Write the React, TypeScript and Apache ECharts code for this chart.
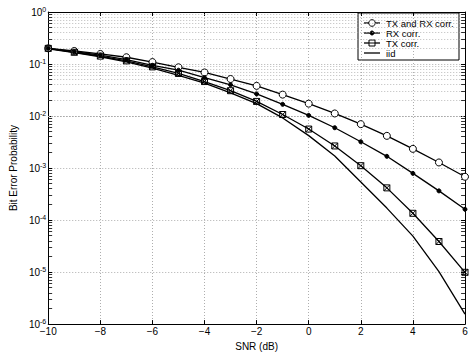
import React, { useEffect, useRef } from "react";
import * as echarts from "echarts";

const snr = [-10, -9, -8, -7, -6, -5, -4, -3, -2, -1, 0, 1, 2, 3, 4, 5, 6];
const txRxCorr = [0.2, 0.178, 0.156, 0.135, 0.109, 0.0865, 0.0688, 0.0515, 0.038, 0.0258, 0.0173, 0.0112, 0.00698, 0.00416, 0.00234, 0.00128, 0.00068];
const rxCorr = [0.2, 0.172, 0.148, 0.122, 0.0944, 0.076, 0.0547, 0.0398, 0.0266, 0.0168, 0.0103, 0.00596, 0.0032, 0.00168, 0.00079, 0.000364, 0.000161];
const txCorr = [0.2, 0.168, 0.142, 0.115, 0.088, 0.0659, 0.046, 0.0307, 0.0191, 0.0107, 0.00562, 0.00266, 0.00111, 0.000416, 0.000135, 0.0000387, 0.0000099];
const iid = [0.195, 0.165, 0.138, 0.11, 0.0835, 0.0603, 0.0428, 0.0278, 0.0173, 0.0092, 0.0042, 0.0017, 0.00054, 0.00017, 0.000049, 0.0000102, 0.00000156];
const seriesNames = ["TX and RX corr.", "RX corr.", "TX corr.", "iid"];
const minorDecades = [-6, -5, -4, -3, -2, -1];
const minorMultipliers = [2, 3, 4, 5, 6, 7, 8, 9];

const FONT = "Liberation Sans";
const squareX = "path://M0,0 L10,0 L10,10 L0,10 Z M0,0 L10,10 M10,0 L0,10";

function buildLegend() {
  const boxX = 358, boxY = 13, boxW = 101, boxH = 47;
  const rowY = [23, 33, 43, 53];
  const lx0 = 364, lx1 = 380, cx = 372, tx = 386;
  const children: any[] = [
    { type: "rect", shape: { x: boxX, y: boxY, width: boxW, height: boxH }, style: { fill: "#fff", stroke: "#000", lineWidth: 1 } },
  ];
  seriesNames.forEach((name, i) => {
    const y = rowY[i];
    children.push({ type: "line", shape: { x1: lx0, y1: y, x2: lx1, y2: y }, style: { stroke: "#000", lineWidth: 1.3 } });
    if (i === 0) children.push({ type: "circle", shape: { cx, cy: y, r: 3.3 }, style: { fill: "#fff", stroke: "#000", lineWidth: 1 } });
    if (i === 1) children.push({ type: "circle", shape: { cx, cy: y, r: 2 }, style: { fill: "#000", stroke: "#000", lineWidth: 1 } });
    if (i === 2) children.push({ type: "rect", shape: { x: cx - 3, y: y - 3, width: 6, height: 6 }, style: { fill: "#fff", stroke: "#000", lineWidth: 1 } });
    if (i === 2) children.push({ type: "line", shape: { x1: cx - 3, y1: y, x2: cx + 3, y2: y }, style: { stroke: "#000", lineWidth: 1 } });
    children.push({ type: "text", x: tx, y, style: { text: name, fontFamily: FONT, fontSize: 9.5, fill: "#000", verticalAlign: "middle", align: "left" } });
  });
  return { type: "group", z: 100, children };
}

export default function App() {
  const ref = useRef<HTMLDivElement>(null);
  useEffect(() => {
    if (!ref.current) return;
    const chart = echarts.init(ref.current, undefined, { renderer: "svg" });
    const minorVals: number[] = [];
    minorDecades.forEach((d) => minorMultipliers.forEach((m) => minorVals.push(m * Math.pow(10, d))));
    const gridLines = minorVals.map((v) => ({ yAxis: v }));
    const tickLen = 0.15;
    const minorTicks: any[] = [];
    minorVals.forEach((v) => {
      minorTicks.push([{ coord: [-10, v] }, { coord: [-10 + tickLen, v] }]);
      minorTicks.push([{ coord: [6 - tickLen, v] }, { coord: [6, v] }]);
    });
    const lineStyle = { color: "#000", width: 1.3 };
    const mk = (name: string, data: number[], symbol: string, size: number, fill: string) => ({
      name,
      type: "line",
      data: snr.map((x, i) => [x, data[i]]),
      symbol,
      symbolSize: size,
      showSymbol: symbol !== "none",
      lineStyle,
      itemStyle: { color: fill, borderColor: "#000", borderWidth: 1 },
      z: 5,
    });
    const option: any = {
      animation: false,
      textStyle: { fontFamily: FONT },
      grid: { left: 35, right: 9, top: 12, bottom: 24 },
      graphic: [buildLegend()],
      xAxis: [
        {
          type: "value",
          min: -10,
          max: 6,
          interval: 2,
          name: "SNR (dB)",
          nameLocation: "middle",
          nameGap: 11,
          nameTextStyle: { fontFamily: FONT, fontSize: 10, color: "#000" },
          axisLine: { show: true, onZero: false, lineStyle: { color: "#000", width: 1 } },
          axisTick: { inside: true, length: 4, lineStyle: { color: "#000" } },
          axisLabel: {
            fontFamily: FONT,
            fontSize: 10,
            color: "#000",
            margin: 2,
            formatter: (v: number) => (v < 0 ? "\u2212" + Math.abs(v) : String(v)),
          },
          splitLine: { show: true, lineStyle: { color: "#999", type: [1, 2], width: 0.8 } },
        },
        {
          type: "value",
          position: "top",
          min: -10,
          max: 6,
          interval: 2,
          axisLine: { show: true, onZero: false, lineStyle: { color: "#000", width: 1 } },
          axisTick: { inside: true, length: 4, lineStyle: { color: "#000" } },
          axisLabel: { show: false },
          splitLine: { show: false },
        },
      ],
      yAxis: [
        {
          type: "log",
          logBase: 10,
          min: 1e-6,
          max: 1,
          interval: 1,
          name: "Bit Error Probability",
          nameLocation: "middle",
          nameGap: 23,
          nameTextStyle: { fontFamily: FONT, fontSize: 10, color: "#000" },
          axisLine: { show: true, onZero: false, lineStyle: { color: "#000", width: 1 } },
          axisTick: { inside: true, length: 4, lineStyle: { color: "#000" } },
          axisLabel: {
            margin: 2,
            formatter: (v: number) => {
              const e = Math.round(Math.log10(v));
              return "{b|10}{s|" + e + "}";
            },
            rich: {
              b: { fontFamily: FONT, fontSize: 10, color: "#000" },
              s: { fontFamily: FONT, fontSize: 7, color: "#000", verticalAlign: "top", padding: [0, 0, 6, 0] },
            },
          },
          splitLine: { show: true, lineStyle: { color: "#999", type: [1, 2], width: 0.8 } },
        },
        {
          type: "log",
          logBase: 10,
          min: 1e-6,
          max: 1,
          interval: 1,
          position: "right",
          axisLine: { show: true, onZero: false, lineStyle: { color: "#000", width: 1 } },
          axisTick: { inside: true, length: 4, lineStyle: { color: "#000" } },
          axisLabel: { show: false },
          splitLine: { show: false },
        },
      ],
      series: [
        {
          name: "_grid",
          type: "line",
          data: [],
          silent: true,
          markLine: {
            silent: true,
            symbol: "none",
            label: { show: false },
            lineStyle: { color: "#aaa", type: [1, 2], width: 0.8 },
            data: gridLines,
          },
        },
        {
          name: "_ticks",
          type: "line",
          data: [],
          silent: true,
          markLine: {
            silent: true,
            symbol: "none",
            label: { show: false },
            lineStyle: { color: "#000", type: "solid", width: 0.8 },
            data: minorTicks,
          },
        },
        mk(seriesNames[0], txRxCorr, "circle", 7, "#fff"),
        mk(seriesNames[1], rxCorr, "circle", 4, "#000"),
        mk(seriesNames[2], txCorr, squareX, 6, "rgba(255,255,255,0)"),
        mk(seriesNames[3], iid, "none", 0, "#000"),
      ],
    };
    chart.setOption(option);
    return () => chart.dispose();
  }, []);
  return <div ref={ref} style={{ position: "absolute", left: 0, top: 0, width: 474, height: 356 }} />;
}
